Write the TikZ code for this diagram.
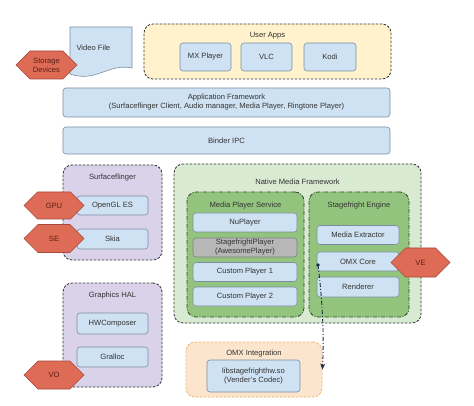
\documentclass[tikz,border=0pt]{standalone}
\usepackage{fontspec}
\setmainfont{Liberation Sans}
\usetikzlibrary{positioning}
\usetikzlibrary{arrows.meta}
\usetikzlibrary{shapes.symbols}
\definecolor{txt}{HTML}{333333}
\definecolor{boxblue}{HTML}{CFE2F3}
\definecolor{boxline}{HTML}{7C8DA3}
\definecolor{hexred}{HTML}{DD6B55}
\definecolor{hexline}{HTML}{A6493A}
\definecolor{hextxt}{HTML}{5B1F14}
\definecolor{appyellow}{HTML}{FFF2CC}
\definecolor{sfpurple}{HTML}{D9D2E9}
\definecolor{nmfgreen}{HTML}{D9EAD3}
\definecolor{mpsgreen}{HTML}{93C47D}
\definecolor{mpsline}{HTML}{2F4A25}
\definecolor{omxorange}{HTML}{FCE5CD}
\definecolor{omxline}{HTML}{F0B46E}
\definecolor{graybox}{HTML}{B7B7B7}
\definecolor{arrowblue}{HTML}{1C2A48}

\begin{document}
\begin{tikzpicture}[x=1pt,y=-1pt,
    every node/.style={font=\fontsize{7.6}{9}\selectfont,text=txt},
    box/.style={draw=boxline,fill=boxblue,rounded corners=3pt,line width=0.6pt,
        minimum height=19pt,inner sep=0pt,align=center},
    hexa/.style={shape=signal,signal from=nowhere,signal to=west and east,
        draw=hexline,fill=hexred,text=hextxt,minimum width=60pt,minimum height=28pt,
        inner sep=0pt,align=center,line width=0.6pt},
    group/.style={draw=txt,rounded corners=9pt,dash pattern=on 2.5pt off 1.5pt,
        line width=0.8pt,inner sep=0pt},
    subgroup/.style={draw=mpsline,fill=mpsgreen,rounded corners=9pt,line width=0.8pt,
        dash pattern=on 4pt off 1.5pt on 1pt off 1.5pt,inner sep=0pt}]
  \useasboundingbox[fill=white] (0,0) rectangle (474,406);

  % user apps and video file
  \node[group,fill=appyellow,minimum width=247pt,minimum height=55pt] (apps) at (267.5,51.5) {};
  \node[below=5pt of apps.north] (appstitle) {User Apps};
  \node[box,minimum width=51pt,minimum height=28pt] (mx) at (205.5,57) {MX Player};
  \node[box,minimum width=51pt,minimum height=28pt] (vlc) at (266.5,57) {VLC};
  \node[box,minimum width=52pt,minimum height=28pt] (kodi) at (330,57) {Kodi};
  \draw[draw=boxline,fill=boxblue,line width=0.6pt] (70,27) -- (132,27) -- (132,68)
      .. controls (108,63) and (96,83) .. (70,74) -- cycle;
  \node[anchor=west] (vfile) at (73,48) {Video File};

  \node[box,minimum width=327pt,minimum height=29pt] (appfw) at (226.5,102.5)
      {Application Framework\\(Surfaceflinger Client, Audio manager, Media Player, Ringtone Player)};
  \node[box,minimum width=327pt,minimum height=27pt] (binder) at (226.5,140.5) {Binder IPC};

  % graphics side
  \node[group,fill=sfpurple,minimum width=99pt,minimum height=95pt] (sf) at (112.5,212.5) {};
  \node[below=6pt of sf.north] (sftitle) {Surfaceflinger};
  \node[box,minimum width=71pt] (gles) at (112.5,205.5) {OpenGL ES};
  \node[box,minimum width=71pt,minimum height=20pt] (skia) at (112.5,239) {Skia};
  \node[group,fill=sfpurple,minimum width=99pt,minimum height=104pt] (hal) at (112.5,335) {};
  \node[below=6pt of hal.north] (haltitle) {Graphics HAL};
  \node[box,minimum width=71pt,minimum height=21pt] (hwc) at (112.5,323.5) {HWComposer};
  \node[box,minimum width=71pt,minimum height=20pt] (gralloc) at (112.5,357) {Gralloc};

  % native media framework
  \node[group,fill=nmfgreen,minimum width=247pt,minimum height=159pt] (nmf) at (297.5,243.5) {};
  \node[below=12pt of nmf.north] (nmftitle) {Native Media Framework};
  \node[subgroup,minimum width=117pt,minimum height=125pt] (mps) at (245.5,254.5) {};
  \node[below=7pt of mps.north] (mpstitle) {Media Player Service};
  \node[box,minimum width=104pt] (nu) at (245,222.5) {NuPlayer};
  \node[box,minimum width=104pt,fill=graybox,draw=gray] (sfp) at (245,247.5)
      {StagefrightPlayer\\(AwesomePlayer)};
  \node[box,minimum width=104pt] (cp1) at (245,272) {Custom Player 1};
  \node[box,minimum width=104pt] (cp2) at (245,296.5) {Custom Player 2};
  \node[subgroup,minimum width=100pt,minimum height=125pt] (sfe) at (359,254.5) {};
  \node[below=7pt of sfe.north] (sfetitle) {Stagefright Engine};
  \node[box,minimum width=82pt] (mex) at (358,235) {Media Extractor};
  \node[box,minimum width=82pt] (omx) at (358,261.5) {OMX Core};
  \node[box,minimum width=82pt,minimum height=20pt] (rend) at (358,287) {Renderer};

  % omx integration
  \node[group,draw=omxline,fill=omxorange,minimum width=136pt,minimum height=55pt] (omxint) at (254,369.5) {};
  \node[below=5pt of omxint.north] (omxtitle) {OMX Integration};
  \node[box,minimum width=93pt,minimum height=32pt] (hw) at (253.5,376)
      {libstagefrighthw.so\\(Vender's Codec)};
  \coordinate (tap) at (318,265);
  \fill[arrowblue] (tap) circle (1.8pt);
  \draw[arrowblue,line width=0.9pt,dash pattern=on 4pt off 2pt on 1pt off 2pt,-{Stealth[length=6pt,width=5pt]}]
      (tap) .. controls (323,305) and (324,340) .. (omxint.east);

  % hardware hexagons
  \node[hexa,minimum width=61pt] (storage) at (46.5,65) {Storage\\Devices};
  \node[hexa,minimum height=27pt] (gpu) at (54,205.5) {GPU};
  \node[hexa] (se) at (54,238.5) {SE};
  \node[hexa] (vo) at (54,375) {VO};
  \node[hexa,minimum width=59pt,minimum height=29pt] (ve) at (420.5,262.5) {VE};
\end{tikzpicture}
\end{document}
